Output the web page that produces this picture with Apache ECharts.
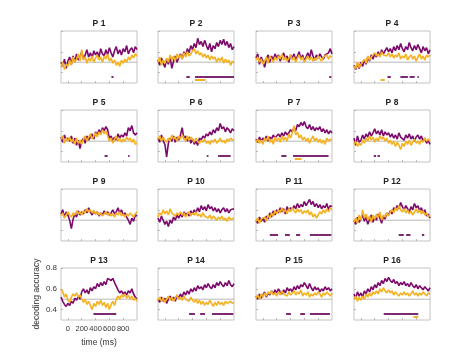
<!DOCTYPE html>
<html><head><meta charset="utf-8">
<script src="https://cdn.jsdelivr.net/npm/echarts@6/dist/echarts.min.js"></script>
<style>html,body{margin:0;padding:0;background:#fff}#c{width:474px;height:361px}</style>
</head><body><div id="c"></div>
<script>
const TIME = [-100,-75,-50,-25,0,25,50,75,100,125,150,175,200,225,250,275,300,325,350,375,400,425,450,475,500,525,550,575,600,625,650,675,700,725,750,775,800,825,850,875,900,925,950,975,1000];
const X_TICKS = [0,200,400,600,800];
const Y_TICKS = [0.4,0.6,0.8];
const CHANCE = 0.5;
const PANEL_TITLES = ['P 1','P 2','P 3','P 4','P 5','P 6','P 7','P 8','P 9','P 10','P 11','P 12','P 13','P 14','P 15','P 16'];

const P1_PURPLE = [.50,.46,.53,.44,.51, .55,.48,.56,.50,.58,.52,.55,.60, .53,.57,.62,.55,.59,.54,.61,.57, .60,.55,.63,.58,.56,.62,.57,.64, .59,.55,.61,.65,.58,.62,.57,.63, .60,.66,.58,.62,.64,.59,.65,.62];
const P1_ORANGE = [.45,.50,.43,.48,.46, .52,.47,.55,.50,.53,.58,.51,.62, .52,.55,.49,.54,.51,.56,.50,.54, .57,.52,.55,.50,.56,.53,.58,.51, .54,.49,.52,.47,.50,.46,.52,.49, .53,.50,.55,.52,.57,.54,.58,.56];
const P2_PURPLE = [.52,.47,.54,.49,.45, .53,.48,.55,.44,.51,.56,.50,.54, .58,.53,.60,.56,.63,.59,.66,.62, .68,.64,.73,.67,.70,.65,.71,.66, .62,.68,.60,.66,.63,.69,.65,.71, .67,.72,.66,.70,.64,.68,.62,.65];
const P2_ORANGE = [.50,.55,.47,.52,.49, .54,.50,.57,.52,.56,.51,.58,.54, .57,.53,.59,.55,.60,.56,.58,.61, .63,.58,.61,.57,.59,.55,.58,.54, .57,.52,.56,.53,.55,.50,.54,.51, .55,.49,.53,.50,.52,.47,.51,.49];
const P3_PURPLE = [.54,.58,.48,.55,.51, .45,.53,.57,.50,.56,.52,.58,.54, .57,.51,.55,.59,.53,.56,.50,.57, .54,.58,.52,.56,.60,.53,.57,.51, .55,.59,.54,.62,.56,.52,.57,.54, .58,.55,.53,.57,.56,.59,.63,.58];
const P3_ORANGE = [.52,.55,.50,.53,.48, .51,.55,.49,.56,.53,.50,.55,.52, .56,.53,.58,.52,.55,.51,.54,.57, .52,.55,.50,.54,.57,.52,.55,.50, .53,.56,.52,.55,.51,.54,.52,.56, .53,.51,.55,.54,.57,.53,.56,.55];
const P4_PURPLE = [.47,.43,.49,.44,.50, .46,.52,.48,.55,.51,.57,.53,.58, .55,.60,.56,.62,.58,.61,.64,.60, .63,.59,.65,.61,.66,.62,.68,.63, .60,.65,.62,.69,.64,.61,.66,.62, .67,.63,.59,.65,.61,.64,.58,.62];
const P4_ORANGE = [.46,.44,.50,.45,.48, .47,.53,.49,.56,.52,.55,.54,.59, .56,.58,.55,.60,.57,.58,.56,.59, .55,.58,.54,.57,.55,.59,.53,.56, .54,.58,.52,.55,.57,.53,.56,.51, .55,.58,.53,.56,.52,.57,.55,.57];
const P5_PURPLE = [.54,.49,.56,.51,.53, .50,.55,.48,.53,.46,.51,.43,.50, .53,.48,.55,.51,.54,.57,.52,.59, .56,.61,.58,.63,.60,.64,.61,.53, .55,.50,.54,.51,.57,.53,.56,.54, .58,.55,.63,.60,.65,.58,.56,.58];
const P5_ORANGE = [.52,.55,.48,.53,.50, .54,.49,.52,.47,.53,.48,.51,.47, .52,.55,.50,.54,.57,.52,.55,.58, .54,.59,.56,.61,.57,.60,.55,.50, .53,.48,.52,.55,.50,.53,.49,.52, .50,.54,.51,.53,.49,.52,.47,.48];
const P6_PURPLE = [.53,.49,.56,.50,.47, .35,.48,.53,.50,.55,.49,.54,.51, .56,.63,.52,.55,.50,.54,.48,.52, .47,.50,.46,.53,.51,.55,.53,.57, .55,.59,.56,.61,.58,.63,.60,.67, .62,.64,.59,.63,.61,.58,.62,.60];
const P6_ORANGE = [.52,.55,.50,.54,.51, .49,.53,.50,.56,.52,.54,.50,.55, .52,.56,.53,.50,.55,.51,.54,.52, .49,.53,.50,.48,.51,.49,.52,.48, .50,.47,.51,.49,.52,.48,.50,.53, .49,.51,.48,.52,.50,.53,.51,.52];
const P7_PURPLE = [.52,.49,.54,.50,.53, .51,.55,.50,.54,.52,.56,.53,.55, .57,.54,.58,.55,.59,.56,.58,.61, .59,.63,.60,.66,.64,.68,.65,.69, .64,.62,.66,.61,.64,.60,.63,.61, .64,.59,.62,.58,.61,.57,.60,.58];
const P7_ORANGE = [.49,.52,.48,.51,.47, .53,.50,.55,.49,.52,.47,.54,.50, .53,.49,.55,.51,.54,.50,.57,.53, .58,.65,.56,.59,.53,.56,.51,.54, .50,.53,.48,.52,.55,.50,.53,.49, .52,.48,.51,.47,.53,.50,.52,.51];
const P8_PURPLE = [.53,.46,.55,.49,.51, .56,.52,.57,.54,.59,.55,.58,.62, .57,.60,.56,.61,.55,.59,.56,.58, .54,.57,.53,.56,.52,.58,.54,.55, .51,.56,.53,.57,.52,.55,.50,.54, .56,.52,.55,.50,.53,.48,.51,.47];
const P8_ORANGE = [.47,.50,.45,.48,.46, .51,.48,.53,.50,.55,.51,.54,.49, .53,.50,.55,.52,.54,.50,.53,.48, .51,.47,.50,.45,.49,.46,.42,.48, .45,.50,.47,.51,.46,.49,.52,.48, .50,.47,.51,.49,.53,.50,.52,.50];
const P9_PURPLE = [.56,.60,.53,.58,.55, .50,.42,.51,.56,.53,.59,.55,.58, .56,.60,.57,.62,.58,.55,.59,.56, .58,.54,.57,.55,.59,.56,.58,.55, .57,.60,.56,.58,.62,.57,.60,.55, .57,.53,.50,.46,.52,.49,.55,.54];
const P9_ORANGE = [.54,.57,.52,.55,.58, .55,.53,.57,.55,.59,.56,.58,.55, .59,.57,.61,.58,.60,.57,.59,.56, .58,.55,.57,.54,.56,.58,.55,.57, .54,.56,.53,.57,.55,.58,.54,.56, .53,.56,.54,.57,.55,.53,.56,.58];
const P10_PURPLE = [.52,.48,.54,.50,.46, .49,.44,.50,.47,.53,.50,.55,.52, .56,.53,.58,.55,.57,.54,.59,.56, .60,.57,.62,.58,.64,.60,.63,.59, .65,.61,.63,.59,.62,.58,.61,.57, .60,.62,.58,.61,.57,.60,.59,.61];
const P10_ORANGE = [.53,.57,.55,.60,.56, .59,.55,.61,.57,.58,.54,.57,.55, .58,.55,.57,.53,.56,.58,.54,.57, .55,.58,.54,.56,.53,.57,.54,.55, .52,.55,.51,.54,.52,.50,.53,.51, .54,.50,.52,.49,.53,.51,.50,.52];
const P11_PURPLE = [.50,.47,.53,.49,.52, .48,.54,.51,.57,.53,.59,.55,.60, .57,.62,.58,.61,.56,.63,.59,.62, .60,.64,.61,.66,.62,.65,.63,.68, .64,.67,.70,.65,.68,.63,.66,.62, .65,.61,.64,.62,.66,.60,.64,.63];
const P11_ORANGE = [.49,.52,.47,.51,.50, .53,.49,.55,.52,.57,.54,.59,.56, .60,.57,.62,.58,.60,.56,.61,.58, .62,.59,.57,.61,.58,.60,.56,.59, .57,.60,.55,.58,.53,.56,.52,.55, .58,.56,.60,.57,.61,.58,.62,.60];
const P12_PURPLE = [.50,.46,.53,.48,.51, .55,.49,.53,.46,.51,.55,.48,.53, .50,.56,.52,.47,.54,.51,.57,.55, .59,.56,.62,.60,.64,.61,.67,.63, .60,.64,.61,.58,.63,.60,.66,.62, .64,.59,.62,.57,.60,.54,.56,.52];
const P12_ORANGE = [.48,.52,.47,.55,.50, .60,.52,.56,.50,.54,.48,.55,.51, .56,.52,.58,.50,.55,.53,.57,.54, .58,.60,.57,.62,.59,.64,.60,.58, .61,.57,.60,.56,.59,.55,.58,.61, .57,.60,.56,.59,.55,.57,.53,.55];
const P13_PURPLE = [.52,.48,.45,.43,.46, .44,.48,.46,.51,.49,.53,.50,.57, .60,.56,.59,.55,.61,.58,.62,.60, .65,.62,.66,.63,.67,.64,.70,.71, .68,.70,.66,.67,.59,.56,.58,.55, .57,.54,.58,.56,.60,.55,.52,.50];
const P13_ORANGE = [.60,.57,.52,.55,.49, .47,.52,.55,.53,.56,.52,.54,.50, .47,.50,.45,.48,.44,.40,.46,.43, .48,.45,.49,.44,.47,.42,.46,.40, .45,.48,.44,.50,.53,.50,.54,.52, .55,.51,.54,.50,.53,.49,.51,.48];
const P14_PURPLE = [.50,.47,.52,.48,.51, .46,.50,.53,.49,.52,.48,.54,.51, .55,.52,.57,.54,.58,.55,.60,.57, .61,.58,.63,.60,.62,.59,.64,.61, .65,.62,.60,.64,.61,.66,.63,.67, .64,.62,.66,.63,.68,.64,.62,.65];
const P14_ORANGE = [.49,.52,.48,.51,.47, .50,.53,.49,.52,.48,.51,.54,.50, .52,.49,.53,.50,.51,.48,.52,.49, .47,.50,.46,.49,.45,.48,.44,.47, .45,.49,.46,.43,.47,.44,.48,.45, .47,.44,.48,.46,.45,.48,.46,.47];
const P15_PURPLE = [.53,.50,.55,.51,.54, .57,.52,.56,.54,.58,.55,.59,.56, .60,.57,.55,.59,.56,.61,.58,.60, .57,.62,.59,.63,.60,.64,.62,.66, .63,.60,.65,.61,.58,.62,.59,.61, .57,.60,.58,.62,.59,.61,.58,.60];
const P15_ORANGE = [.51,.54,.50,.55,.52, .56,.53,.57,.55,.58,.54,.56,.53, .57,.54,.58,.55,.56,.53,.57,.54, .56,.58,.54,.57,.55,.59,.53,.56, .54,.57,.52,.55,.53,.56,.54,.57, .55,.52,.56,.54,.57,.55,.53,.56];
const P16_PURPLE = [.55,.51,.57,.53,.56, .52,.58,.55,.60,.57,.62,.59,.64, .61,.66,.63,.68,.65,.70,.67,.71, .68,.66,.69,.65,.67,.63,.66,.64, .67,.63,.65,.62,.66,.63,.61,.64, .60,.63,.61,.59,.62,.60,.58,.61];
const P16_ORANGE = [.50,.53,.48,.52,.49, .53,.50,.55,.52,.56,.53,.57,.55, .58,.55,.60,.57,.61,.58,.56,.59, .56,.58,.54,.57,.55,.53,.56,.54, .57,.54,.56,.53,.55,.58,.54,.56, .53,.56,.54,.57,.55,.53,.56,.55];

// significant time windows (ms)
const SIG_PURPLE = [
  [[630,660]], [[310,360],[435,1000]], [[960,990]], [[384,433],[571,680],[705,778],[818,838]],
  [[531,575],[871,892]], [[606,630],[769,951]], [[266,340],[436,950]], [[186,220],[240,275]],
  [], [], [[100,220],[320,390],[480,540],[680,990]], [[547,620],[655,718],[883,917]],
  [[370,700]], [[350,435],[510,580],[680,990]], [[335,405],[540,610],[680,970]], [[330,830]]
];
const SIG_ORANGE = [
  [], [[435,590]], [], [[285,345]],
  [], [], [[461,560]], [],
  [], [], [], [],
  [], [], [], [[760,830]]
];
const SIG_LEVEL_PURPLE = 0.36, SIG_LEVEL_ORANGE = 0.33;

const PURPLE = [P1_PURPLE,P2_PURPLE,P3_PURPLE,P4_PURPLE,P5_PURPLE,P6_PURPLE,P7_PURPLE,P8_PURPLE,P9_PURPLE,P10_PURPLE,P11_PURPLE,P12_PURPLE,P13_PURPLE,P14_PURPLE,P15_PURPLE,P16_PURPLE];
const ORANGE = [P1_ORANGE,P2_ORANGE,P3_ORANGE,P4_ORANGE,P5_ORANGE,P6_ORANGE,P7_ORANGE,P8_ORANGE,P9_ORANGE,P10_ORANGE,P11_ORANGE,P12_ORANGE,P13_ORANGE,P14_ORANGE,P15_ORANGE,P16_ORANGE];

const C_PURPLE = '#7b0a6b', C_ORANGE = '#f4b223';
const FONT = 'Liberation Sans, Arial, sans-serif';
const colLeft = [61,158,256,354], rowTop = [31,110,189,268], W = 76, H = 52;

const grid = [], xAxis = [], yAxis = [], series = [], graphic = [];
for (let k = 0; k < 16; k++) {
  const r = Math.floor(k/4), c = k % 4, lab = (k === 12);
  grid.push({left: colLeft[c], top: rowTop[r], width: W, height: H, show: true,
    borderColor: '#c4c4c4', borderWidth: 1, backgroundColor: 'rgba(0,0,0,0)'});
  xAxis.push({gridIndex: k, type: 'value', min: TIME[0], max: TIME[TIME.length-1],
    axisLine: {show: false, onZero: false}, splitLine: {show: false},
    axisTick: {show: true, inside: true, length: 2, customValues: X_TICKS, lineStyle: {color: '#aaa', width: 0.8}},
    axisLabel: {show: lab, customValues: X_TICKS, fontSize: 7.5, color: '#333', margin: 5, fontFamily: FONT, hideOverlap: false},
    name: lab ? 'time (ms)' : '', nameLocation: 'middle', nameGap: 18,
    nameTextStyle: {fontSize: 8.5, color: '#333', fontFamily: FONT}});
  yAxis.push({gridIndex: k, type: 'value', min: 0.3, max: 0.8,
    axisLine: {show: false, onZero: false}, splitLine: {show: false},
    axisTick: {show: true, inside: true, length: 2, customValues: Y_TICKS, lineStyle: {color: '#aaa', width: 0.8}},
    axisLabel: {show: lab, customValues: Y_TICKS, fontSize: 8, color: '#333', margin: 4, fontFamily: FONT,
      formatter: v => v.toFixed(1)},
    name: lab ? 'decoding accuracy' : '', nameLocation: 'middle', nameGap: 20,
    nameTextStyle: {fontSize: 8.5, color: '#333', fontFamily: FONT}});
  series.push({type: 'line', xAxisIndex: k, yAxisIndex: k, silent: true, symbol: 'none', z: 1,
    data: [[TIME[0], CHANCE], [TIME[TIME.length-1], CHANCE]],
    lineStyle: {color: '#a6a6a6', width: 0.8}});
  series.push({type: 'line', xAxisIndex: k, yAxisIndex: k, silent: true, symbol: 'none', z: 2,
    data: TIME.map((t, i) => [t, PURPLE[k][i]]), lineStyle: {color: C_PURPLE, width: 1.6}});
  series.push({type: 'line', xAxisIndex: k, yAxisIndex: k, silent: true, symbol: 'none', z: 3,
    data: TIME.map((t, i) => [t, ORANGE[k][i]]), lineStyle: {color: C_ORANGE, width: 1.6}});
  if (SIG_PURPLE[k].length) series.push({type: 'lines', coordinateSystem: 'cartesian2d', xAxisIndex: k, yAxisIndex: k, silent: true, z: 4,
    data: SIG_PURPLE[k].map(s => ({coords: [[s[0], SIG_LEVEL_PURPLE], [s[1], SIG_LEVEL_PURPLE]]})),
    lineStyle: {color: '#7e2a72', width: 2, opacity: 1}});
  if (SIG_ORANGE[k].length) series.push({type: 'lines', coordinateSystem: 'cartesian2d', xAxisIndex: k, yAxisIndex: k, silent: true, z: 4,
    data: SIG_ORANGE[k].map(s => ({coords: [[s[0], SIG_LEVEL_ORANGE], [s[1], SIG_LEVEL_ORANGE]]})),
    lineStyle: {color: C_ORANGE, width: 2, opacity: 1}});
  graphic.push({type: 'text', x: colLeft[c] + W/2, y: rowTop[r] - 12,
    style: {text: PANEL_TITLES[k], textAlign: 'center', fill: '#222', font: 'bold 8.5px ' + FONT}});
}

const chart = echarts.init(document.getElementById('c'), null, {renderer: 'canvas'});
chart.setOption({animation: false, backgroundColor: '#fff', grid, xAxis, yAxis, series, graphic});
</script></body></html>
